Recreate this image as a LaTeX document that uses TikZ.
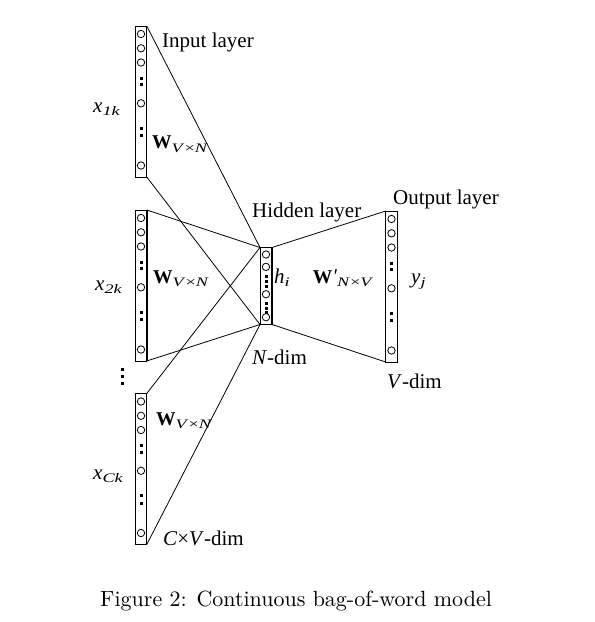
\documentclass[tikz,border=0pt]{standalone}
\usepackage{fontspec}
\usepackage{graphicx}
\newfontfamily\tnr{Liberation Serif}
\newfontfamily\lmten{lmroman10-regular}[Extension=.otf]
\tikzset{
  vecbox/.style={draw, line width=0.9pt, fill=white, minimum width=11.5pt, minimum height=151pt, inner sep=0pt, outer sep=0pt},
  hidbox/.style={vecbox, minimum width=12pt, minimum height=77pt},
  conn/.style={line width=0.8pt},
  cir/.style={line width=0.8pt},
  lbl/.style={anchor=base west, inner sep=0pt, font=\tnr\fontsize{21}{25}\selectfont},
  capt/.style={anchor=base west, inner sep=0pt, font=\lmten\fontsize{22}{26}\selectfont},
}
\newcommand\subs[1]{\raisebox{-3.5pt}{\fontsize{13}{13}\selectfont\scalebox{1.4}[1]{#1}}}
\newcommand\wsub[1]{{\fontsize{19.5}{22}\selectfont\textbf{W}}\subs{#1}}
\newcommand\vecmarks[1]{%
  \foreach \d in {8,22.3,36.5,77.3,139.5} \draw[cir] ([yshift=-\d pt]#1.north) circle[radius=3.7pt];
  \foreach \d in {52,58.5,102.3,109.5} \fill ([yshift=-\d pt]#1.north) ++(-1.5pt,-1.5pt) rectangle ++(3pt,3pt);
}
\newcommand\hidmarks[1]{%
  \foreach \d in {7,19.4,46.7,69.7} \draw[cir] ([yshift=-\d pt]#1.north) circle[radius=3.7pt];
  \foreach \d in {29.4,34.4,39.4,56,61,65} \fill ([yshift=-\d pt]#1.north) ++(-1.5pt,-1.5pt) rectangle ++(3pt,3pt);
}
\begin{document}
\begin{tikzpicture}[x=1pt,y=-1pt]
\useasboundingbox (0,0) rectangle (595,622);
% vectors
\node[vecbox] (v1) at (141,101.5) {};
\node[vecbox] (v2) at (141,285.5) {};
\node[vecbox] (v3) at (141,469) {};
\node[vecbox] (out) at (391.5,286.5) {};
\node[hidbox] (hid) at (266,286) {};
\draw[line width=2pt] (v2.north east) -- (v2.south east);
\draw[line width=2pt] (hid.north east) -- (hid.south east);
\vecmarks{v1}
\vecmarks{v2}
\vecmarks{v3}
\vecmarks{out}
\hidmarks{hid}
% connectors
\draw[conn] (v1.north east) -- (hid.north west);
\draw[conn] (v1.south east) -- (hid.south west);
\draw[conn] (v2.north east) -- (hid.north west);
\draw[conn] (v2.south east) -- (hid.south west);
\draw[conn] (v3.north east) -- (hid.north west);
\draw[conn] (v3.south east) -- (hid.south west);
\draw[conn] (hid.north east) -- (out.north west);
\draw[conn] (hid.south east) -- (out.south west);
% vertical dots between inputs
\foreach \yy in {369,376,383} \fill (122,\yy) ++(-1.5pt,-1.5pt) rectangle ++(3pt,3pt);
% labels
\node[lbl] (tin) at (162,47) {Input layer};
\node[lbl] (tx1) at (93,112) {\textit{x}\subs{\textit{1k}}};
\node[lbl] (tw1) at (152,148.5) {\wsub{\textit{V}×\textit{N}}};
\node[lbl] (tx2) at (95,290) {\textit{x}\subs{\textit{2k}}};
\node[lbl] (tw2) at (153,283.3) {\wsub{\textit{V}×\textit{N}}};
\node[lbl] (thid) at (252,217) {Hidden layer};
\node[lbl] (tout) at (393,204) {Output layer};
\node[lbl] (th) at (274,283) {\textit{h}\subs{\textit{i}}};
\node[lbl] (tw4) at (312.7,283) {{\fontsize{19.5}{22}\selectfont\textbf{W}}\textit{\textquotesingle}\subs{\textit{N}×\textit{V}}};
\node[lbl] (ty) at (411,283) {\textit{y}\subs{\textit{j}}};
\node[lbl] (tnd) at (252,364) {\textit{N}-dim};
\node[lbl] (tvd) at (387,388) {\textit{V}-dim};
\node[lbl] (tw3) at (156,425) {\wsub{\textit{V}×\textit{N}}};
\node[lbl] (txc) at (93,479) {\textit{x}\subs{\textit{Ck}}};
\node[lbl] (tcv) at (163,545) {\textit{C}×\textit{V}-dim};
\node[capt] (cap) at (100,606) {Figure 2: Continuous bag-of-word model};
\end{tikzpicture}
\end{document}
